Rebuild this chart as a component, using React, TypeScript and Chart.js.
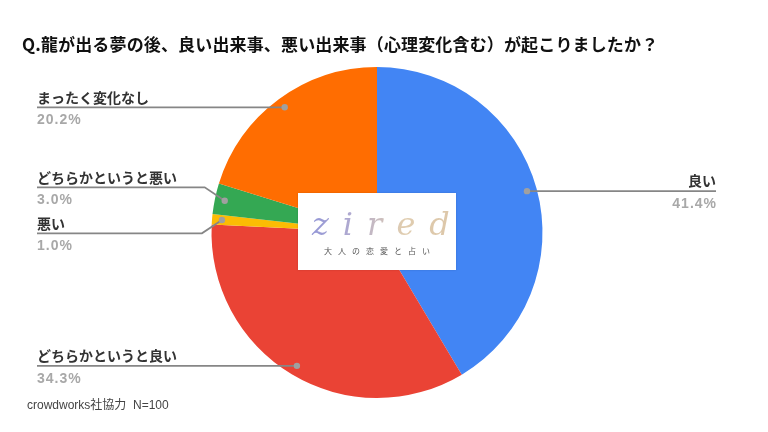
import React, { useEffect, useRef } from "react";
import { Chart, registerables } from "chart.js";

Chart.register(...registerables);

const categories = ["良い", "どちらかというと良い", "悪い", "どちらかというと悪い", "まったく変化なし"];
const values = [41.4, 34.3, 1.0, 3.0, 20.2];
const colors = ["#4285F4", "#EA4335", "#FBBC04", "#34A853", "#FF6D01"];
const percentLabels = values.map((v) => v.toFixed(1) + "%");

const titleText = "Q.龍が出る夢の後、良い出来事、悪い出来事（心理変化含む）が起こりましたか？";
const footerText = "crowdworks社協力\u00a0\u00a0N=100";

const labelPlugin = {
  id: "outsideLabels",
  afterDatasetsDraw(chart: any) {
    const ctx = chart.ctx;
    const meta = chart.getDatasetMeta(0);
    const items: any[] = [];
    meta.data.forEach((arc: any, i: number) => {
      const p = arc.getProps(["x", "y", "startAngle", "endAngle", "outerRadius"], true);
      const mid = (p.startAngle + p.endAngle) / 2;
      const r = p.outerRadius * 0.94;
      const dx = p.x + Math.cos(mid) * r;
      const dy = p.y + Math.sin(mid) * r;
      items.push({ i, dx, dy, ly: dy, right: Math.cos(mid) > 0 });
    });
    const gap = 46;
    [true, false].forEach((side) => {
      const group = items.filter((it) => it.right === side).sort((a, b) => a.dy - b.dy);
      for (let k = 1; k < group.length; k++) {
        const a = group[k - 1];
        const b = group[k];
        if (b.ly - a.ly < gap) {
          const m = (a.ly + b.ly) / 2;
          a.ly = m - gap / 2;
          b.ly = m + gap / 2;
        }
      }
    });
    const leftX = 37;
    const rightX = 716;
    ctx.save();
    items.forEach((it) => {
      ctx.strokeStyle = "#868686";
      ctx.lineWidth = 1.8;
      ctx.beginPath();
      const endX = it.right ? rightX : leftX;
      ctx.moveTo(endX, it.ly);
      if (Math.abs(it.ly - it.dy) < 1) {
        ctx.lineTo(it.dx, it.dy);
      } else {
        const elbow = it.right ? it.dx + 18 : it.dx - 20;
        ctx.lineTo(elbow, it.ly);
        ctx.lineTo(it.dx, it.dy);
      }
      ctx.stroke();
      ctx.fillStyle = "#a0a0a0";
      ctx.beginPath();
      ctx.arc(it.dx, it.dy, 3.2, 0, Math.PI * 2);
      ctx.fill();
      ctx.textAlign = it.right ? "right" : "left";
      ctx.fillStyle = "#333333";
      ctx.font = "bold 14px 'Noto Sans CJK JP', sans-serif";
      ctx.textBaseline = "bottom";
      (ctx as any).letterSpacing = "0px";
      ctx.fillText(categories[it.i], endX, it.ly - 3);
      ctx.fillStyle = "#a8a8a8";
      ctx.font = "bold 14px 'Liberation Sans', Arial, sans-serif";
      ctx.textBaseline = "top";
      (ctx as any).letterSpacing = "1px";
      ctx.fillText(percentLabels[it.i], it.right ? endX + 1 : endX, it.ly + 6);
      (ctx as any).letterSpacing = "0px";
    });
    ctx.restore();
  },
};

export default function App() {
  const canvasRef = useRef<HTMLCanvasElement>(null);
  useEffect(() => {
    const chart = new Chart(canvasRef.current as HTMLCanvasElement, {
      type: "pie",
      data: {
        labels: categories,
        datasets: [
          {
            data: values,
            backgroundColor: colors,
            borderWidth: 0,
          },
        ],
      },
      options: {
        animation: false,
        responsive: false,
        layout: { padding: { top: 67, bottom: 34, left: 0, right: 14 } },
        plugins: {
          legend: { display: false },
          tooltip: { enabled: false },
        },
      },
      plugins: [labelPlugin],
    });
    return () => chart.destroy();
  }, []);

  return (
    <div style={{ position: "fixed", left: 0, top: 0, width: 768, height: 432, background: "#fff", overflow: "hidden" }}>
      <canvas ref={canvasRef} width={768} height={432} style={{ position: "absolute", left: 0, top: 0 }} />
      <div
        style={{
          position: "absolute",
          left: 22,
          top: 33,
          fontFamily: "'Noto Sans CJK JP', sans-serif",
          fontWeight: 700,
          fontSize: 17,
          lineHeight: "22px",
          letterSpacing: 0.15,
          color: "#111",
          whiteSpace: "nowrap",
        }}
      >
        {titleText}
      </div>
      <div
        style={{
          position: "absolute",
          left: 298,
          top: 193,
          width: 158,
          height: 77,
          background: "#fff",
          boxShadow: "0 0 2px rgba(0,0,0,0.15)",
        }}
      >
        <div
          style={{
            position: "absolute",
            left: 0,
            top: 12,
            width: 158,
            textAlign: "center",
            fontFamily: "'DejaVu Serif', serif",
            fontStyle: "italic",
            fontWeight: 300,
            fontSize: 32,
            lineHeight: "38px",
            letterSpacing: 14,
            paddingLeft: 14,
            boxSizing: "border-box",
            background: "linear-gradient(to right, #8a90d8, #b0aad0, #e0cdb0, #dcc6a8)",
            WebkitBackgroundClip: "text",
            backgroundClip: "text",
            color: "transparent",
          }}
        >
          zired
        </div>
        <div
          style={{
            position: "absolute",
            left: 0,
            top: 53,
            width: 158,
            textAlign: "center",
            fontFamily: "'Noto Sans CJK JP', sans-serif",
            fontSize: 8,
            lineHeight: "10px",
            letterSpacing: 6,
            paddingLeft: 6,
            boxSizing: "border-box",
            color: "#555",
          }}
        >
          大人の恋愛と占い
        </div>
      </div>
      <div
        style={{
          position: "absolute",
          left: 27,
          top: 397,
          fontFamily: "'Liberation Sans', 'Noto Sans CJK JP', sans-serif",
          fontSize: 12,
          lineHeight: "16px",
          color: "#444",
          whiteSpace: "nowrap",
        }}
      >
        {footerText}
      </div>
    </div>
  );
}
